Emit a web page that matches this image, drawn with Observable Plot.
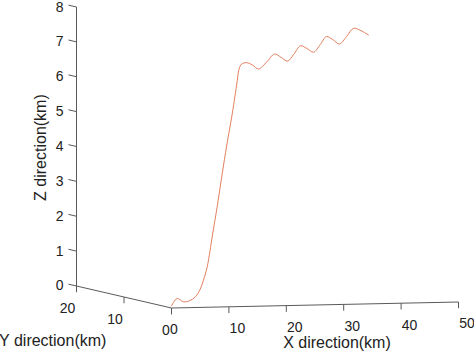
<!DOCTYPE html>
<html><head><meta charset="utf-8">
<script src="https://cdn.jsdelivr.net/npm/d3@7"></script>
<script src="https://cdn.jsdelivr.net/npm/@observablehq/plot@0.6"></script>
<style>html,body{margin:0;padding:0;background:#fff;overflow:hidden}</style>
</head><body><div id="chart"></div>
<script>
// trajectory (km)
const trajX = [0, 0.99, 2.09, 3.2, 4.18, 5.0, 5.57, 6.22, 7.14, 7.96, 9.41, 10.6, 11.43, 11.75, 12.2, 13.07, 14.1, 15.16, 16.6, 17.94, 19.1, 20.21, 21.3, 22.47, 23.6, 24.74, 25.9, 27.0, 28.1, 29.27, 30.5, 31.71, 33.0, 34.32];
const trajY = [0, 0, 0, 0, 0, 0, 0, 0, 0, 0, 0, 0, 0, 0, 0, 0, 0, 0, 0, 0, 0, 0, 0, 0, 0, 0, 0, 0, 0, 0, 0, 0, 0, 0];
const trajZ = [0.06, 0.27, 0.17, 0.2, 0.31, 0.52, 0.78, 1.16, 2.07, 2.88, 4.42, 5.55, 6.45, 6.8, 6.95, 6.99, 6.92, 6.80, 7.0, 7.22, 7.12, 7.01, 7.2, 7.44, 7.36, 7.25, 7.46, 7.69, 7.6, 7.47, 7.68, 7.91, 7.84, 7.71];
// ticks
const xTicks = [0, 10, 20, 30, 40, 50];
const yTicks = [0, 10, 20];
const zTicks = [0, 1, 2, 3, 4, 5, 6, 7, 8];
const xTitle = "X direction(km)";
const yTitle = "Y direction(km)";
const zTitle = "Z direction(km)";

// oblique projection of (X, Y, Z) km onto the page
const O = [171, 307.5];
const ex = [5.74, -0.12], ey = [-4.75, -1.1], ez = [0, -34.875];
const P = (X, Y, Z) => [O[0] + ex[0]*X + ey[0]*Y + ez[0]*Z, O[1] + ex[1]*X + ey[1]*Y + ez[1]*Z];

const traj = trajX.map((x, i) => { const p = P(x, trajY[i], trajZ[i]); return {px: p[0], py: p[1]}; });
const seg = (a, b) => { const p = P(...a), q = P(...b); return {x1: p[0], y1: p[1], x2: q[0], y2: q[1]}; };
const axes = [seg([0,0,0],[50,0,0]), seg([0,0,0],[0,20,0]), seg([0,20,0],[0,20,8])];
const ticks = [
  ...xTicks.map(t => seg([t,0,0],[t,0,-0.18])),
  ...yTicks.map(t => seg([0,t,0],[0,t,-0.18])),
  ...zTicks.map(t => seg([0,20,t],[0,21.7,t]))
];
const labels = [
  ...xTicks.map(t => { const p = P(t,0,0); return {x: p[0] + (t === 0 ? 2.5 : 8.5), y: p[1] + 22, text: String(t), anchor: "middle"}; }),
  ...yTicks.map(t => { const p = P(0,t,0); return {x: p[0] - (t === 0 ? 5.5 : 9), y: p[1] + 23, text: String(t), anchor: "middle"}; }),
  ...zTicks.map(t => { const p = P(0,20,t); return {x: p[0] - 13, y: p[1] + (t === 8 ? 1 : 0), text: String(t), anchor: "end"}; })
];
const pX = P(28, -1, -1.055), pY = P(0, 25, -1.72), pZ = P(0, 27.6, 3.73);
const titles = [
  {x: pX[0], y: pX[1], text: xTitle, rotate: 0},
  {x: pY[0], y: pY[1], text: yTitle, rotate: 0},
  {x: pZ[0], y: pZ[1], text: zTitle, rotate: -90}
];

const chart = Plot.plot({
  width: 474, height: 351,
  margin: 0,
  x: {type: "identity", axis: null},
  y: {type: "identity", axis: null},
  style: {fontFamily: "Arial, 'Liberation Sans', sans-serif", background: "#fff"},
  marks: [
    Plot.link(axes, {x1: "x1", y1: "y1", x2: "x2", y2: "y2", stroke: "#5a5a5a", strokeWidth: 1}),
    Plot.link(ticks, {x1: "x1", y1: "y1", x2: "x2", y2: "y2", stroke: "#5a5a5a", strokeWidth: 1}),
    Plot.text(labels.filter(d => d.anchor === "middle"), {x: "x", y: "y", text: "text", fontSize: 14, fill: "#222", textAnchor: "middle"}),
    Plot.text(labels.filter(d => d.anchor === "end"), {x: "x", y: "y", text: "text", fontSize: 14, fill: "#222", textAnchor: "end"}),
    Plot.text(titles, {x: "x", y: "y", text: "text", rotate: "rotate", fontSize: 16, fill: "#222", textAnchor: "middle"}),
    Plot.line(traj, {x: "px", y: "py", stroke: "#e0704d", strokeWidth: 0.9, curve: "catmull-rom"})
  ]
});
document.getElementById("chart").appendChild(chart);
</script>
</body></html>
